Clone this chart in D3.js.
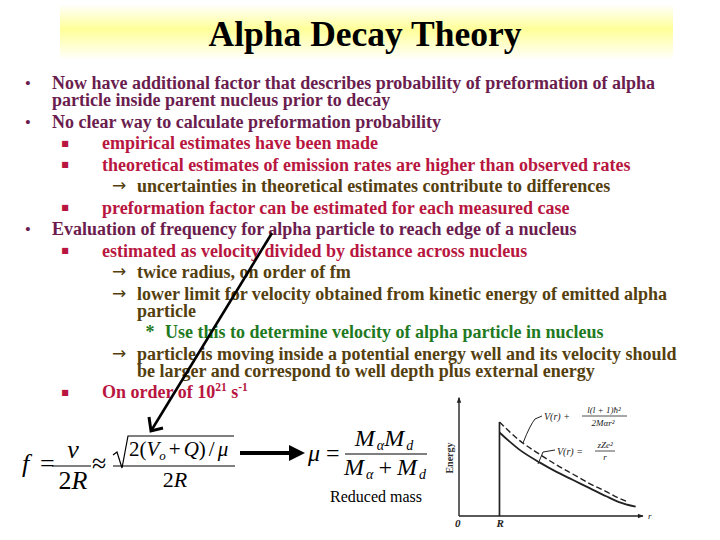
<!DOCTYPE html>
<html><head><meta charset="utf-8">
<script src="https://cdn.jsdelivr.net/npm/d3@7"></script>
<style>
html,body{margin:0;padding:0;background:#fff;}
svg{display:block;}
svg text{font-family:'Liberation Serif','Times New Roman',serif;}
</style></head>
<body>
<svg id="slide" width="720" height="540"></svg>
<script>
// ---------- data ----------
const titleText = "Alpha Decay Theory";

// bullet lines: level (1..4), continuation flag, text
const bulletLevels = [1,1,1,2,2,3,2,1,2,3,3,3,4,3,3,2];
const bulletCont   = [0,1,0,0,0,0,0,0,0,0,0,1,0,0,1,0];
const bulletTexts = [
  "Now have additional factor that describes probability of preformation of alpha",
  "particle inside parent nucleus prior to decay",
  "No clear way to calculate preformation probability",
  "empirical estimates have been made",
  "theoretical estimates of emission rates are higher than observed rates",
  "uncertainties in theoretical estimates contribute to differences",
  "preformation factor can be estimated for each measured case",
  "Evaluation of frequency for alpha particle to reach edge of a nucleus",
  "estimated as velocity divided by distance across nucleus",
  "twice radius, on order of fm",
  "lower limit for velocity obtained from kinetic energy of emitted alpha",
  "particle",
  "Use this to determine velocity of alpha particle in nucleus",
  "particle is moving inside a potential energy well and its velocity should",
  "be larger and correspond to well depth plus external energy",
  "On order of 10^21| s^-1|"
];
const levelMarks  = ["\u2022","\u25A0","\u2192","*"];
const levelColors = ["#6a1d4e","#b8163f","#54400f","#1f7a1f"];

// energy diagram (schematic units: r 0..100, energy 0..100)
const wallR = 22;
const solidR = [22, 33, 44, 53, 62, 71, 80, 87, 96];
const solidE = [72, 57, 46, 38, 31, 24, 17, 12, 8];
const dashR  = [22, 33, 44, 53, 62, 71, 80, 86, 92];
const dashE  = [81, 65, 53, 44, 36, 28, 21, 16, 12];

// ---------- drawing ----------
const serif = "'Liberation Serif','Times New Roman',serif";
const svg = d3.select("#slide");
const defs = svg.append("defs");
const grad = defs.append("linearGradient").attr("id","band")
  .attr("x1",0).attr("y1",0).attr("x2",0).attr("y2",1);
grad.append("stop").attr("offset","0%").attr("stop-color","#ffffff");
grad.append("stop").attr("offset","45%").attr("stop-color","#ffff99");
grad.append("stop").attr("offset","100%").attr("stop-color","#ffffff");

svg.append("rect").attr("x",60).attr("y",4).attr("width",613).attr("height",56)
  .attr("fill","url(#band)");

svg.append("text").attr("x",365).attr("y",46)
  .attr("text-anchor","middle")
  .style("font-family",serif)
  .style("font-weight","bold").style("font-size","35.5px").attr("fill","#000")
  .text(titleText);

// bullet text
const markX = [28, 65, 119, 150];
const textX = [52, 102, 137, 165];
let yb = 89;
const bodyG = svg.append("g");
bulletTexts.forEach((txt,i)=>{
  if (i>0) yb += bulletCont[i] ? 17 : 21.5;
  const lvl = bulletLevels[i]-1;
  const col = levelColors[lvl];
  if (!bulletCont[i]) {
    const m = bodyG.append("text").attr("x",markX[lvl]).attr("y",yb)
      .attr("text-anchor","middle").attr("fill",col).text(levelMarks[lvl])
      .style("font-family",serif).style("font-weight","bold").style("font-size","18px");
    if (lvl===0) m.style("font-size","15px").attr("y",yb-1);
    if (lvl===1) m.style("font-family","'DejaVu Sans',sans-serif").style("font-size","8px").attr("y",yb-3.5);
    if (lvl===2) m.style("font-family","'DejaVu Sans',sans-serif").style("font-weight","normal").style("font-size","17px").attr("y",yb-1);
  }
  const tx = bodyG.append("text").attr("x",textX[lvl]).attr("y",yb).attr("fill",col)
    .style("font-family",serif).style("font-weight","bold").style("font-size","18px");
  if (txt.indexOf("^")>=0) {
    // superscripts: "^xx|" marks raised text
    const parts = txt.split(/(\^[^|]*\|)/);
    let raised = false;
    parts.forEach(p=>{
      if (!p) return;
      if (p[0]==="^") {
        tx.append("tspan").attr("dy",-7).style("font-size","11.5px").text(p.slice(1,-1));
        raised = true;
      } else {
        const s = tx.append("tspan").text(p);
        if (raised) { s.attr("dy",7); raised = false; }
      }
    });
  } else tx.text(txt);
});

// diagonal pointer arrow from text to equation
svg.append("line").attr("x1",272).attr("y1",233).attr("x2",151).attr("y2",431)
  .attr("stroke","#000").attr("stroke-width",2.6);
svg.append("path").attr("d","M149,417 L151,431 L163,428")
  .attr("fill","none").attr("stroke","#000").attr("stroke-width",3).attr("stroke-linejoin","miter");

// ---------- equations ----------
const eq = svg.append("g").attr("fill","#000");
function tx(x,y,anchor,size){
  const e = eq.append("text").attr("x",x).attr("y",y)
    .style("font-family",serif).style("font-size",size||"24px");
  if (anchor) e.attr("text-anchor",anchor);
  return e;
}
function sp(el,s,opt={}) {
  const e = el.append("tspan").text(s).style("font-family",serif);
  if (opt.i) e.style("font-style","italic");
  if (opt.sub) e.style("font-size",opt.subSize||"14px").attr("dy",4);
  if (opt.up) e.attr("dy",-4);
  if (opt.dx) e.attr("dx",opt.dx);
  return e;
}
const eF = tx(22,472,null,"26px"); sp(eF,"f",{i:true});
const eEq1 = tx(40,472,null,"26px"); sp(eEq1,"=");
const eV = tx(73,458,"middle","26px"); sp(eV,"v",{i:true});
eq.append("line").attr("x1",52).attr("x2",91).attr("y1",466).attr("y2",466).attr("stroke","#000").attr("stroke-width",1.2);
const e2R = tx(73,489,"middle","26px"); sp(e2R,"2"); sp(e2R,"R",{i:true});
const eAp = tx(92,472,null,"26px"); sp(eAp,"\u2248");
// sqrt
eq.append("path").attr("d","M113,455 L117,452 L122,468 L128,436 L234,436")
  .attr("fill","none").attr("stroke","#000").attr("stroke-width",1.2);
const num = tx(129,456,null,"21px");
sp(num,"2("); sp(num,"V",{i:true}); sp(num,"o",{i:true,sub:true,subSize:"13px"});
sp(num,"+",{up:true,dx:3}); sp(num,"Q",{i:true,dx:3}); sp(num,")"); sp(num,"/",{dx:3}); sp(num,"\u03BC",{i:true,dx:3});
eq.append("line").attr("x1",113).attr("x2",235).attr("y1",466).attr("y2",466).attr("stroke","#000").attr("stroke-width",1.2);
const den = tx(175,487,"middle","22px"); sp(den,"2"); sp(den,"R",{i:true});

// thick arrow
eq.append("line").attr("x1",240).attr("x2",292).attr("y1",453).attr("y2",453).attr("stroke","#000").attr("stroke-width",4);
eq.append("path").attr("d","M289,445 L305,453 L289,461 Z").attr("fill","#000");

const eMu = tx(308,461); sp(eMu,"\u03BC",{i:true});
const eEq2 = tx(326,461); sp(eEq2,"=");
const mnum = tx(384,446,"middle");
sp(mnum,"M",{i:true}); sp(mnum,"\u03B1",{i:true,sub:true,dx:2}); sp(mnum,"M",{i:true,up:true}); sp(mnum,"d",{i:true,sub:true,dx:2});
eq.append("line").attr("x1",345).attr("x2",427).attr("y1",454).attr("y2",454).attr("stroke","#000").attr("stroke-width",1.2);
const mden = tx(385,475,"middle");
sp(mden,"M",{i:true}); sp(mden,"\u03B1",{i:true,sub:true,dx:2}); sp(mden,"+",{up:true,dx:5}); sp(mden,"M",{i:true,dx:5}); sp(mden,"d",{i:true,sub:true,dx:2});
const eRm = tx(376,502,"middle","16px"); sp(eRm,"Reduced mass");

// ---------- energy diagram ----------
const x = d3.scaleLinear().domain([0,100]).range([459,643]);
const y = d3.scaleLinear().domain([0,100]).range([516,400]);
const g = svg.append("g");
defs.append("marker").attr("id","ax").attr("viewBox","0 0 10 10")
  .attr("refX",9).attr("refY",5).attr("markerWidth",6).attr("markerHeight",4)
  .attr("orient","auto").attr("markerUnits","strokeWidth")
  .append("path").attr("d","M0,1 L10,5 L0,9 z").attr("fill","#222");
g.append("line").attr("x1",x(0)).attr("y1",y(0)).attr("x2",x(100)).attr("y2",y(0))
  .attr("stroke","#222").attr("stroke-width",1.4).attr("marker-end","url(#ax)");
g.append("line").attr("x1",x(0)).attr("y1",y(0)).attr("x2",x(0)).attr("y2",y(102))
  .attr("stroke","#222").attr("stroke-width",1.4).attr("marker-end","url(#ax)");
// wall
g.append("line").attr("x1",x(wallR)).attr("y1",y(0)).attr("x2",x(wallR)).attr("y2",y(dashE[0]))
  .attr("stroke","#222").attr("stroke-width",1.7);
const line = d3.line().x(d=>x(d[0])).y(d=>y(d[1])).curve(d3.curveMonotoneX);
g.append("path").attr("d",line(d3.zip(solidR,solidE))).attr("fill","none")
  .attr("stroke","#222").attr("stroke-width",1.8);
g.append("path").attr("d",line(d3.zip(dashR,dashE))).attr("fill","none")
  .attr("stroke","#222").attr("stroke-width",1.4).attr("stroke-dasharray","6,3");

function sm(x0,y0,s,size,anchor){
  const e = g.append("text").attr("x",x0).attr("y",y0).text(s).attr("fill","#222")
    .style("font-family",serif).style("font-style","italic").style("font-size",size);
  if (anchor) e.attr("text-anchor",anchor);
  return e;
}
sm(x(0)-4,527,"0","11px").style("font-weight","bold");
sm(x(wallR)-3,527,"R","11px").style("font-weight","bold");
sm(x(100)+5,519,"r","9px");
g.append("text").attr("transform",`translate(453,${y(50)}) rotate(-90)`)
  .attr("text-anchor","middle").style("font-family",serif).style("font-size","10px").style("font-weight","bold")
  .attr("fill","#333").text("Energy");

// labels with leaders
g.append("path").attr("d","M523,443 Q530,425 535,419 L542,416").attr("fill","none").attr("stroke","#222").attr("stroke-width",1);
sm(544,420,"V(r) +","10px");
sm(604,413,"l(l + 1)\u0127\u00B2","9px","middle");
g.append("line").attr("x1",582).attr("x2",627).attr("y1",416).attr("y2",416).attr("stroke","#222").attr("stroke-width",0.8);
sm(603,426,"2M\u03B1r\u00B2","9px","middle");

g.append("path").attr("d","M538,464 L543,452 L555,450").attr("fill","none").attr("stroke","#222").attr("stroke-width",1);
sm(557,455,"V(r) =","10px");
sm(605,448,"zZe\u00B2","9px","middle");
g.append("line").attr("x1",595).attr("x2",615).attr("y1",451).attr("y2",451).attr("stroke","#222").attr("stroke-width",0.8);
sm(605,460,"r","9px","middle");
</script>
</body></html>
